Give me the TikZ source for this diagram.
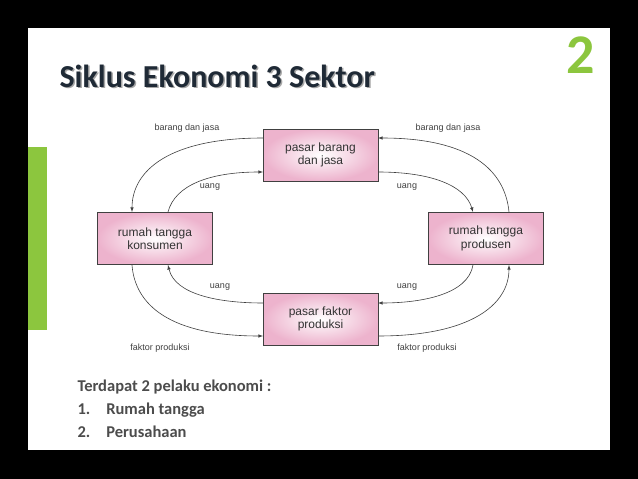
\documentclass[tikz,border=0pt]{standalone}
\usepackage{fontspec}
\setmainfont{Liberation Sans}
\newfontfamily\calfont{Carlito}
\definecolor{pinkb}{HTML}{EDB3CD}
\definecolor{grn}{HTML}{8CC63E}
\definecolor{ttl}{HTML}{1F2A36}
\begin{document}
\begin{tikzpicture}[x=1pt,y=-1pt,
  box/.style={draw=black!75,line width=0.7pt,inner color=white,outer color=pinkb,minimum width=115pt,minimum height=52pt,align=center,font=\fontsize{12}{13.5}\selectfont,text=black!80},
  lbl/.style={font=\fontsize{9}{10}\selectfont,text=black!75},
  arr/.style={-latex,draw=black!75,line width=0.6pt}]
\fill[black] (0,0) rectangle (638,479);
\fill[white] (28,28) rectangle (610,450);
\fill[grn] (28,147) rectangle (47,330);
\node[anchor=west,font=\calfont\bfseries\fontsize{32}{34}\selectfont,text=black!35] (ts) at (57.5,77.5) {Siklus Ekonomi 3 Sektor};
\node[anchor=west,font=\calfont\bfseries\fontsize{32}{34}\selectfont,text=ttl] (t) at (56,76) {Siklus Ekonomi 3 Sektor};
\node[font=\calfont\bfseries\fontsize{56}{58}\selectfont,text=grn] (n2) at (581,55) {2};
\node[box] (top) at (320.5,155) {pasar barang\\dan jasa};
\node[box] (lft) at (155,238.5) {rumah tangga\\konsumen};
\node[box] (rgt) at (486,238.5) {rumah tangga\\produsen};
\node[box] (bot) at (320.5,319) {pasar faktor\\produksi};
\coordinate (tl1) at (263,138); \coordinate (tl2) at (263,172);
\coordinate (tr1) at (378,138); \coordinate (tr2) at (378,172);
\coordinate (bl1) at (263,303); \coordinate (bl2) at (263,336);
\coordinate (br1) at (378,303); \coordinate (br2) at (378,336);
\coordinate (lt1) at (132,212); \coordinate (lt2) at (168,212);
\coordinate (lb1) at (132,265); \coordinate (lb2) at (168,265);
\coordinate (rt1) at (473,212); \coordinate (rt2) at (509,212);
\coordinate (rb1) at (473,265); \coordinate (rb2) at (509,265);
\draw[arr] (tl1) .. controls (170,138) and (132,170) .. (lt1);
\draw[arr] (lt2) .. controls (175,185) and (210,172) .. (tl2);
\draw[arr] (tr2) .. controls (430,172) and (465,185) .. (rt1);
\draw[arr] (rt2) .. controls (505,170) and (470,138) .. (tr1);
\draw[arr] (rb1) .. controls (468,295) and (420,303) .. (br1);
\draw[arr] (br2) .. controls (470,336) and (509,305) .. (rb2);
\draw[arr] (bl1) .. controls (220,303) and (175,295) .. (lb2);
\draw[arr] (lb1) .. controls (135,305) and (170,336) .. (bl2);
\node[lbl] (l1) at (187,128) {barang dan jasa};
\node[lbl] (l2) at (448,128) {barang dan jasa};
\node[lbl] (l3) at (210,187) {uang};
\node[lbl] (l4) at (407,187) {uang};
\node[lbl] (l5) at (220,287) {uang};
\node[lbl] (l6) at (407,287) {uang};
\node[lbl] (l7) at (160,348) {faktor produksi};
\node[lbl] (l8) at (427,348) {faktor produksi};
\begin{scope}[every node/.style={anchor=west,font=\calfont\bfseries\fontsize{16.5}{18}\selectfont,text=black!70}]
\node (b0) at (74,387) {Terdapat 2 pelaku ekonomi :};
\node (b1) at (74,410) {1.\hspace{16pt}Rumah tangga};
\node (b2) at (74,432) {2.\hspace{16pt}Perusahaan};
\end{scope}
\end{tikzpicture}
\end{document}
